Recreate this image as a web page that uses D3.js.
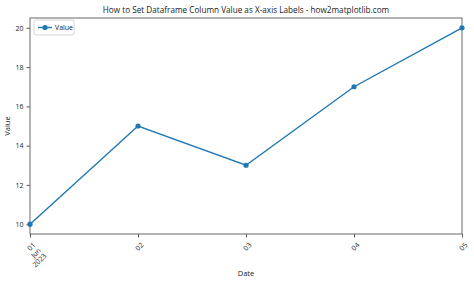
<!DOCTYPE html>
<html><head><meta charset="utf-8">
<script src="https://cdn.jsdelivr.net/npm/d3@7"></script>
<style>body{margin:0;background:#fff}svg{display:block}text{font-family:"Open Sans","Noto Sans",sans-serif;fill:#222}</style>
</head><body><svg id="c" width="474" height="284"></svg>
<script>
const dates = ["2023-06-01","2023-06-02","2023-06-03","2023-06-04","2023-06-05"];
const values = [10, 15, 13, 17, 20];
const yTicks = [10, 12, 14, 16, 18, 20];
const xTickLabels = [["01","Jun","2023"],["02"],["03"],["04"],["05"]];
const title = "How to Set Dataframe Column Value as X-axis Labels - how2matplotlib.com";

const parse = d3.utcParse("%Y-%m-%d");
const data = dates.map((d,i)=>({date:parse(d), value:values[i]}));
const L=30,R=462,T=18,B=234;
const svg=d3.select("#c");
const x=d3.scaleUtc().domain(d3.extent(data,d=>d.date)).range([L,R]);
const y=d3.scaleLinear().domain([9.5,20.5]).range([B,T]);
const col="#1f77b4";

// y axis
const ya=svg.append("g").attr("transform",`translate(${L},0)`)
  .call(d3.axisLeft(y).tickValues(yTicks).tickSize(3.5).tickPadding(3).tickFormat(d3.format("d")));
ya.select(".domain").remove();
ya.selectAll("line").attr("stroke","#333").attr("stroke-width",0.8);
ya.selectAll("text").style("font-size","7px").attr("fill","#222");

// x axis
const xa=svg.append("g").attr("transform",`translate(0,${B})`)
  .call(d3.axisBottom(x).tickValues(data.map(d=>d.date)).tickSize(3.5).tickFormat(""));
xa.select(".domain").remove();
xa.selectAll("line").attr("stroke","#333").attr("stroke-width",0.8);
xa.selectAll(".tick").each(function(d,i){
  const g=d3.select(this);
  const lines=xTickLabels[i];
  const t=g.append("text").attr("transform","translate(2,8) rotate(-45)")
    .attr("text-anchor","end").style("font-size","7px").attr("fill","#222");
  lines.forEach((s,j)=>{t.append("tspan").attr("x",0).attr("dy",j===0?"0.7em":"1.1em").text(s);});
});

// frame
svg.append("rect").attr("x",L).attr("y",T).attr("width",R-L).attr("height",B-T)
  .attr("fill","none").attr("stroke","#444").attr("stroke-width",0.8);

// line
svg.append("path").datum(data).attr("fill","none").attr("stroke",col).attr("stroke-width",1.4)
  .attr("d",d3.line().x(d=>x(d.date)).y(d=>y(d.value)));
svg.selectAll("circle.pt").data(data).join("circle").attr("class","pt")
  .attr("cx",d=>x(d.date)).attr("cy",d=>y(d.value)).attr("r",2.6).attr("fill",col);

// title & labels
svg.append("text").attr("x",(L+R)/2).attr("y",13).attr("text-anchor","middle")
  .style("font-size","8.2px").text(title);
svg.append("text").attr("x",(L+R)/2).attr("y",276).attr("text-anchor","middle")
  .style("font-size","7.5px").text("Date");
svg.append("text").attr("transform",`translate(10,${(T+B)/2}) rotate(-90)`).attr("text-anchor","middle")
  .style("font-size","7.5px").text("Value");

// legend
const lg=svg.append("g").attr("transform","translate(34,20)");
lg.append("rect").attr("width",40).attr("height",15).attr("rx",2).attr("fill","#fff")
  .attr("stroke","#ccc").attr("stroke-width",0.8);
lg.append("line").attr("x1",4).attr("x2",18).attr("y1",7.5).attr("y2",7.5).attr("stroke",col).attr("stroke-width",1.4);
lg.append("circle").attr("cx",11).attr("cy",7.5).attr("r",2.6).attr("fill",col);
lg.append("text").attr("x",21).attr("y",10).style("font-size","7px").text("Value");
</script></body></html>
